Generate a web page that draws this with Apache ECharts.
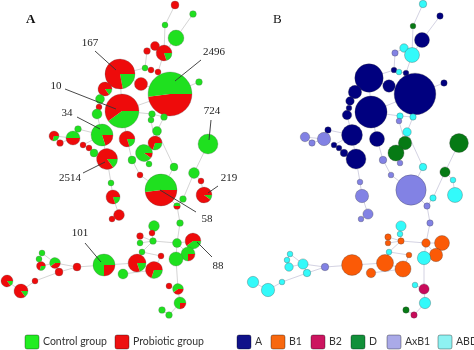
<!DOCTYPE html>
<html>
<head>
<meta charset="utf-8">
<script src="https://cdn.jsdelivr.net/npm/echarts@6/dist/echarts.min.js"></script>
<style>
  html, body { margin: 0; padding: 0; background: #fff; }
  #chart { width: 474px; height: 350px; }
</style>
</head>
<body>
<div id="chart"></div>
<script>
// panel A nodes: [x, y, isolates, control share]
const nodeA = [
  [175, 5, 7, 0], [193, 14, 5, 1], [165, 25, 4, 1], [176, 38, 28, 1], [155, 46, 9, 0],
  [164, 53, 28, 0.2], [147, 51, 5, 0], [145, 68, 4, 1], [151, 70, 4, 0], [158, 72, 4, 0],
  [120, 74, 100, 0.22], [141, 84, 19, 0], [170, 94, 215, 0.52], [199, 82, 5, 1], [105, 89, 22, 0.15],
  [100, 99, 9, 1], [122, 111, 128, 0.4], [99, 107, 4, 0], [97, 114, 11, 1], [152, 114, 5, 1],
  [151, 120, 4, 1], [164, 117, 5, 1], [102, 135, 54, 0.8], [78, 129, 5, 1], [54, 136, 11, 0.3],
  [60, 143, 5, 0], [73, 138, 22, 0.5], [83, 145, 4, 0], [89, 148, 4, 0], [94, 153, 7, 1],
  [107, 159, 49, 0.15], [127, 139, 28, 0.2], [157, 131, 9, 1], [155, 143, 22, 0.3], [144, 153, 32, 0.9],
  [132, 160, 7, 1], [149, 164, 4, 1], [140, 175, 4, 0], [174, 167, 7, 1], [161, 190, 114, 0.52],
  [194, 173, 13, 1], [201, 181, 4, 0], [204, 195, 28, 0.1], [208, 144, 44, 1], [111, 183, 4, 1],
  [113, 197, 22, 0.2], [183, 199, 5, 1], [177, 206, 5, 0.5], [119, 215, 13, 0], [112, 219, 4, 0],
  [180, 223, 5, 1], [154, 226, 13, 1], [152, 233, 4, 0], [140, 236, 5, 0], [140, 243, 4, 1],
  [153, 241, 5, 1], [193, 241, 28, 0.4], [177, 243, 9, 1], [188, 254, 22, 0.75], [176, 259, 22, 1],
  [142, 252, 4, 1], [161, 256, 4, 0], [137, 263, 36, 0.2], [154, 270, 32, 0.3], [123, 274, 11, 1],
  [104, 265, 54, 0.75], [77, 267, 7, 0], [55, 263, 13, 0.6], [59, 272, 7, 0], [41, 266, 9, 0.3],
  [39, 259, 4, 1], [42, 253, 4, 1], [7, 281, 16, 0.15], [21, 291, 22, 0.15], [35, 281, 4, 0],
  [169, 286, 4, 0], [178, 289, 13, 0.6], [180, 303, 16, 0.75], [162, 310, 5, 1], [169, 315, 5, 1]
];

// panel B node positions, same order
const nodeB = [
  [423, 4], [440, 16], [413, 26], [422, 40], [404, 48], [412, 55], [395, 53], [394, 70], [399, 72], [406, 73],
  [369, 78], [389, 86], [415, 94], [444, 83], [355, 92], [350, 101], [371, 112], [349, 108], [347, 115], [400, 116],
  [399, 121], [413, 117], [352, 135], [328, 130], [305, 137], [312, 143], [324, 139], [334, 145], [339, 148], [344, 153],
  [356, 159], [377, 139], [407, 132], [405, 143], [396, 153], [383, 160], [400, 163], [391, 175], [423, 167], [411, 190],
  [445, 172], [453, 180], [455, 195], [459, 143], [360, 182], [362, 196], [433, 198], [427, 206], [368, 214], [361, 219],
  [430, 223], [401, 226], [400, 234], [388, 237], [388, 243], [401, 241], [442, 243], [426, 243], [436, 255], [424, 258],
  [389, 252], [409, 255], [385, 263], [403, 269], [371, 273], [352, 265], [325, 267], [303, 264], [307, 273], [289, 267],
  [287, 260], [290, 254], [253, 282], [268, 290], [282, 282], [415, 285], [424, 289], [425, 303], [406, 310], [414, 315]
];

const groupNames = ['A', 'B1', 'B2', 'D', 'AxB1', 'ABD'];
// phylogroup of each node (index into groupNames)
const nodeGroup = [
  5, 0, 3, 0, 5, 5, 4, 0, 5, 0,
  0, 0, 0, 0, 0, 0, 0, 0, 0, 5,
  4, 5, 0, 0, 4, 4, 4, 0, 0, 0,
  0, 0, 5, 3, 3, 4, 4, 4, 5, 4,
  3, 5, 5, 3, 4, 4, 5, 4, 4, 4,
  4, 5, 5, 1, 1, 1, 1, 1, 1, 5,
  5, 1, 1, 1, 1, 1, 4, 5, 5, 5,
  5, 5, 5, 5, 5, 5, 2, 5, 3, 2
];

const edges = [
  [0, 2], [2, 5], [1, 3], [3, 5], [4, 5], [4, 6], [6, 7], [5, 9], [7, 8], [8, 9],
  [9, 12], [7, 10], [10, 11], [11, 12], [12, 13], [10, 14], [14, 15], [15, 17], [17, 18], [10, 16],
  [16, 12], [16, 19], [19, 20], [19, 21], [21, 12], [18, 22], [22, 23], [23, 26], [24, 26], [25, 26],
  [24, 25], [22, 27], [27, 28], [28, 29], [29, 30], [30, 22], [16, 31], [31, 35], [35, 37], [37, 39],
  [20, 33], [32, 33], [33, 34], [34, 36], [30, 44], [44, 45], [45, 48], [48, 49], [38, 39], [40, 43],
  [40, 41], [41, 42], [40, 46], [46, 47], [39, 47], [47, 50], [50, 57], [57, 56], [57, 58], [56, 58],
  [57, 59], [58, 59], [51, 52], [52, 55], [53, 55], [54, 55], [53, 54], [55, 57], [55, 60], [60, 61],
  [61, 63], [60, 62], [62, 63], [62, 65], [63, 64], [65, 66], [66, 67], [66, 68], [67, 68], [67, 69],
  [69, 70], [70, 71], [71, 67], [68, 74], [74, 73], [73, 72], [59, 76], [75, 76], [76, 77], [77, 79],
  [78, 79], [32, 21], [38, 32]
];

const labelText = ['167', '2496', '10', '34', '724', '2514', '219', '58', '88', '101'];
const labelPos = [[90, 43], [214, 52], [56, 86], [67, 113], [212, 111], [70, 178], [229, 178], [207, 219], [218, 266], [80, 233]];
const leaderLines = [
  [95, 51, 116, 70], [201, 60, 175, 81], [65, 89, 116, 109], [77, 117, 100, 129], [211, 120, 209, 140],
  [83, 173, 105, 162], [218, 186, 208, 193], [196, 212, 160, 190], [212, 257, 197, 242], [85, 243, 101, 262]
];

const GREEN = '#1fe01f';
const RED = '#ee0b0b';
const groupColors = ['#00007f', '#fb5a06', '#c80a5a', '#067a14', '#8282e4', '#33fafa'];
const groupBoxColors = ['#10128a', '#f8680f', '#cc1560', '#12903a', '#aaaae8', '#8ef2f2'];

let chart = echarts.init(document.getElementById('chart'));

function edgeData(nodes) {
  return edges.map(function (e) {
    return [nodes[e[0]][0], nodes[e[0]][1], nodes[e[1]][0], nodes[e[1]][1]];
  });
}

function renderEdge(color) {
  return function (params, api) {
    let p1 = api.coord([api.value(0), api.value(1)]);
    let p2 = api.coord([api.value(2), api.value(3)]);
    return {
      type: 'line',
      shape: { x1: p1[0], y1: p1[1], x2: p2[0], y2: p2[1] },
      style: { stroke: color, lineWidth: 0.8 }
    };
  };
}

// pie nodes: the smaller share is drawn first, from 3 o'clock clockwise
function renderPie(params, api) {
  let c = api.coord([api.value(0), api.value(1)]);
  let r = 1.5 * Math.sqrt(api.value(2));
  let g = api.value(3);
  let children = [];
  if (g <= 0 || g >= 1) {
    children.push({
      type: 'circle',
      shape: { cx: c[0], cy: c[1], r: r },
      style: { fill: g >= 1 ? GREEN : RED, stroke: 'rgba(90,90,90,0.55)', lineWidth: 0.5 }
    });
  } else {
    let firstGreen = g < 0.5;
    let first = firstGreen ? g : 1 - g;
    let a = first * Math.PI * 2;
    children.push({
      type: 'sector',
      shape: { cx: c[0], cy: c[1], r: r, r0: 0, startAngle: 0, endAngle: a, clockwise: true },
      style: { fill: firstGreen ? GREEN : RED }
    });
    children.push({
      type: 'sector',
      shape: { cx: c[0], cy: c[1], r: r, r0: 0, startAngle: a, endAngle: Math.PI * 2, clockwise: true },
      style: { fill: firstGreen ? RED : GREEN }
    });
    children.push({
      type: 'circle',
      shape: { cx: c[0], cy: c[1], r: r },
      style: { fill: 'none', stroke: 'rgba(90,90,90,0.55)', lineWidth: 0.5 }
    });
  }
  return { type: 'group', children: children };
}

function renderLabel(params, api) {
  let i = params.dataIndex;
  let t = api.coord([labelPos[i][0], labelPos[i][1]]);
  let l = leaderLines[i];
  let p1 = api.coord([l[0], l[1]]);
  let p2 = api.coord([l[2], l[3]]);
  return {
    type: 'group',
    children: [
      {
        type: 'line',
        shape: { x1: p1[0], y1: p1[1], x2: p2[0], y2: p2[1] },
        style: { stroke: '#333', lineWidth: 0.9 }
      },
      {
        type: 'text',
        style: {
          text: labelText[i], x: t[0], y: t[1], align: 'center', verticalAlign: 'middle',
          font: '11px "Liberation Serif", serif', fill: '#222'
        }
      }
    ]
  };
}

// legend built from the group lists
let legendItems = [];
function legendEntry(x, fill, text) {
  legendItems.push({
    type: 'rect',
    shape: { x: x, y: 335, width: 14, height: 14, r: 2 },
    style: { fill: fill, stroke: 'rgba(0,0,0,0.35)', lineWidth: 1 }
  });
  legendItems.push({
    type: 'text',
    style: { text: text, x: x + 18, y: 342, verticalAlign: 'middle', font: '10.5px Lato, sans-serif', fill: '#333' }
  });
}
legendEntry(25, '#22ee22', 'Control group');
legendEntry(115, '#ee1111', 'Probiotic group');
let legendX = [237, 271, 311, 351, 387, 438];
groupNames.forEach(function (name, i) {
  legendEntry(legendX[i], groupBoxColors[i], name);
});

chart.setOption({
  animation: false,
  grid: { left: 0, right: 0, top: 0, bottom: 0 },
  xAxis: { type: 'value', min: 0, max: 474, show: false },
  yAxis: { type: 'value', min: 0, max: 350, inverse: true, show: false },
  graphic: [
    {
      type: 'text', left: 26, top: 13,
      style: { text: 'A', font: 'bold 13px "Liberation Serif", serif', fill: '#111' }
    },
    {
      type: 'text', left: 273, top: 13,
      style: { text: 'B', font: '13px "Liberation Serif", serif', fill: '#111' }
    }
  ].concat(legendItems),
  series: [
    {
      type: 'custom', silent: true, z: 1,
      data: edgeData(nodeA),
      renderItem: renderEdge('#c9c9c9')
    },
    {
      type: 'custom', silent: true, z: 1,
      data: edgeData(nodeB),
      renderItem: renderEdge('#c8c6da')
    },
    {
      type: 'custom', silent: true, z: 2,
      data: nodeA,
      renderItem: renderPie
    },
    {
      type: 'scatter', silent: true, z: 2,
      data: nodeB.map(function (p, i) { return [p[0], p[1], nodeA[i][2], nodeGroup[i]]; }),
      symbolSize: function (v) { return 2 * 1.42 * Math.sqrt(v[2]); },
      itemStyle: {
        opacity: 1,
        color: function (p) { return groupColors[p.value[3]]; },
        borderColor: 'rgba(60,60,60,0.6)',
        borderWidth: 0.5
      }
    },
    {
      type: 'custom', silent: true, z: 3,
      data: labelText.map(function (t, i) { return [labelPos[i][0], labelPos[i][1]]; }),
      renderItem: renderLabel
    }
  ]
});
</script>
</body>
</html>
